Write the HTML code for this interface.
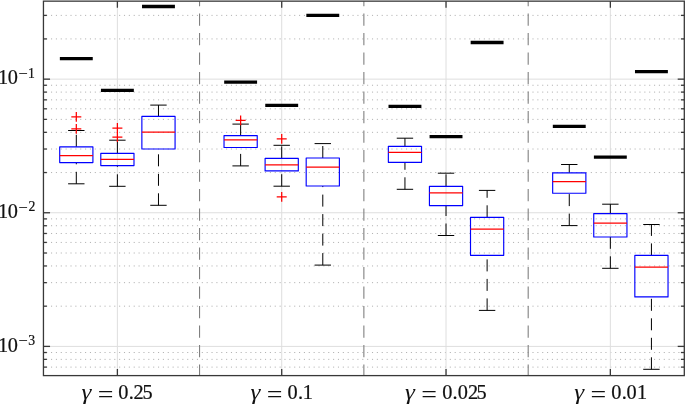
<!DOCTYPE html>
<html lang="en"><head><meta charset="utf-8"><title>Boxplot</title>
<style>html,body{margin:0;padding:0;background:#fff}svg{display:block}</style></head>
<body>
<svg width="685" height="404" viewBox="0 0 685 404" style="display:block">
<rect x="0" y="0" width="685" height="404" fill="#fff"/>
<g stroke="#b2b2b2" stroke-width="1" stroke-dasharray="1.1 3.763" stroke-dashoffset="-2.7" fill="none">
<line x1="43.45" y1="38.92" x2="684.30" y2="38.92"/>
<line x1="43.45" y1="15.39" x2="684.30" y2="15.39"/>
<line x1="43.45" y1="172.55" x2="684.30" y2="172.55"/>
<line x1="43.45" y1="149.02" x2="684.30" y2="149.02"/>
<line x1="43.45" y1="132.33" x2="684.30" y2="132.33"/>
<line x1="43.45" y1="119.38" x2="684.30" y2="119.38"/>
<line x1="43.45" y1="108.80" x2="684.30" y2="108.80"/>
<line x1="43.45" y1="99.85" x2="684.30" y2="99.85"/>
<line x1="43.45" y1="92.10" x2="684.30" y2="92.10"/>
<line x1="43.45" y1="85.26" x2="684.30" y2="85.26"/>
<line x1="43.45" y1="306.18" x2="684.30" y2="306.18"/>
<line x1="43.45" y1="282.65" x2="684.30" y2="282.65"/>
<line x1="43.45" y1="265.96" x2="684.30" y2="265.96"/>
<line x1="43.45" y1="253.01" x2="684.30" y2="253.01"/>
<line x1="43.45" y1="242.43" x2="684.30" y2="242.43"/>
<line x1="43.45" y1="233.48" x2="684.30" y2="233.48"/>
<line x1="43.45" y1="225.73" x2="684.30" y2="225.73"/>
<line x1="43.45" y1="218.89" x2="684.30" y2="218.89"/>
<line x1="43.45" y1="367.11" x2="684.30" y2="367.11"/>
<line x1="43.45" y1="359.36" x2="684.30" y2="359.36"/>
<line x1="43.45" y1="352.52" x2="684.30" y2="352.52"/>
</g>
<g stroke="#dedede" stroke-width="1" fill="none">
<line x1="43.45" y1="79.15" x2="684.30" y2="79.15"/>
<line x1="43.45" y1="212.75" x2="684.30" y2="212.75"/>
<line x1="43.45" y1="346.40" x2="684.30" y2="346.40"/>
<line x1="117.39" y1="1.15" x2="117.39" y2="375.60"/>
<line x1="281.71" y1="1.15" x2="281.71" y2="375.60"/>
<line x1="446.03" y1="1.15" x2="446.03" y2="375.60"/>
<line x1="610.35" y1="1.15" x2="610.35" y2="375.60"/>
</g>
<g stroke="#808080" stroke-width="1.1" stroke-dasharray="12.1 7.4" stroke-dashoffset="1.1" fill="none">
<line x1="199.55" y1="375.60" x2="199.55" y2="1.15"/>
<line x1="363.87" y1="375.60" x2="363.87" y2="1.15"/>
<line x1="528.19" y1="375.60" x2="528.19" y2="1.15"/>
</g>
<g stroke="#000" stroke-width="1" fill="none">
<line x1="76.31" y1="146.80" x2="76.31" y2="130.50" stroke-dasharray="12 7.5"/>
<line x1="76.31" y1="183.80" x2="76.31" y2="162.60" stroke-dasharray="12 7.5"/>
<line x1="68.11" y1="130.50" x2="84.51" y2="130.50"/>
<line x1="68.11" y1="183.80" x2="84.51" y2="183.80"/>
<line x1="117.39" y1="153.30" x2="117.39" y2="140.20" stroke-dasharray="12 7.5"/>
<line x1="117.39" y1="186.30" x2="117.39" y2="165.60" stroke-dasharray="12 7.5"/>
<line x1="109.19" y1="140.20" x2="125.59" y2="140.20"/>
<line x1="109.19" y1="186.30" x2="125.59" y2="186.30"/>
<line x1="158.47" y1="116.40" x2="158.47" y2="105.10" stroke-dasharray="12 7.5"/>
<line x1="158.47" y1="205.30" x2="158.47" y2="149.00" stroke-dasharray="12 7.5"/>
<line x1="150.27" y1="105.10" x2="166.67" y2="105.10"/>
<line x1="150.27" y1="205.30" x2="166.67" y2="205.30"/>
<line x1="240.63" y1="135.60" x2="240.63" y2="124.10" stroke-dasharray="12 7.5"/>
<line x1="240.63" y1="165.90" x2="240.63" y2="147.50" stroke-dasharray="12 7.5"/>
<line x1="232.43" y1="124.10" x2="248.83" y2="124.10"/>
<line x1="232.43" y1="165.90" x2="248.83" y2="165.90"/>
<line x1="281.71" y1="158.40" x2="281.71" y2="145.30" stroke-dasharray="12 7.5"/>
<line x1="281.71" y1="186.20" x2="281.71" y2="170.90" stroke-dasharray="12 7.5"/>
<line x1="273.51" y1="145.30" x2="289.91" y2="145.30"/>
<line x1="273.51" y1="186.20" x2="289.91" y2="186.20"/>
<line x1="322.79" y1="158.00" x2="322.79" y2="143.60" stroke-dasharray="12 7.5"/>
<line x1="322.79" y1="265.10" x2="322.79" y2="186.00" stroke-dasharray="12 7.5"/>
<line x1="314.59" y1="143.60" x2="330.99" y2="143.60"/>
<line x1="314.59" y1="265.10" x2="330.99" y2="265.10"/>
<line x1="404.95" y1="146.30" x2="404.95" y2="138.20" stroke-dasharray="12 7.5"/>
<line x1="404.95" y1="189.30" x2="404.95" y2="162.30" stroke-dasharray="12 7.5"/>
<line x1="396.75" y1="138.20" x2="413.15" y2="138.20"/>
<line x1="396.75" y1="189.30" x2="413.15" y2="189.30"/>
<line x1="446.03" y1="186.30" x2="446.03" y2="173.20" stroke-dasharray="12 7.5"/>
<line x1="446.03" y1="235.50" x2="446.03" y2="205.60" stroke-dasharray="12 7.5"/>
<line x1="437.83" y1="173.20" x2="454.23" y2="173.20"/>
<line x1="437.83" y1="235.50" x2="454.23" y2="235.50"/>
<line x1="487.11" y1="217.30" x2="487.11" y2="190.40" stroke-dasharray="12 7.5"/>
<line x1="487.11" y1="310.40" x2="487.11" y2="255.30" stroke-dasharray="12 7.5"/>
<line x1="478.91" y1="190.40" x2="495.31" y2="190.40"/>
<line x1="478.91" y1="310.40" x2="495.31" y2="310.40"/>
<line x1="569.27" y1="172.90" x2="569.27" y2="164.50" stroke-dasharray="12 7.5"/>
<line x1="569.27" y1="225.60" x2="569.27" y2="193.30" stroke-dasharray="12 7.5"/>
<line x1="561.07" y1="164.50" x2="577.47" y2="164.50"/>
<line x1="561.07" y1="225.60" x2="577.47" y2="225.60"/>
<line x1="610.35" y1="213.60" x2="610.35" y2="204.20" stroke-dasharray="12 7.5"/>
<line x1="610.35" y1="268.30" x2="610.35" y2="237.00" stroke-dasharray="12 7.5"/>
<line x1="602.15" y1="204.20" x2="618.55" y2="204.20"/>
<line x1="602.15" y1="268.30" x2="618.55" y2="268.30"/>
<line x1="651.43" y1="255.40" x2="651.43" y2="224.50" stroke-dasharray="12 7.5"/>
<line x1="651.43" y1="369.30" x2="651.43" y2="296.90" stroke-dasharray="12 7.5"/>
<line x1="643.23" y1="224.50" x2="659.63" y2="224.50"/>
<line x1="643.23" y1="369.30" x2="659.63" y2="369.30"/>
</g>
<g stroke="#0000ff" stroke-width="1.15" stroke-linejoin="round" fill="none">
<rect x="59.71" y="146.80" width="33.20" height="15.80"/>
<rect x="100.79" y="153.30" width="33.20" height="12.30"/>
<rect x="141.87" y="116.40" width="33.20" height="32.60"/>
<rect x="224.03" y="135.60" width="33.20" height="11.90"/>
<rect x="265.11" y="158.40" width="33.20" height="12.50"/>
<rect x="306.19" y="158.00" width="33.20" height="28.00"/>
<rect x="388.35" y="146.30" width="33.20" height="16.00"/>
<rect x="429.43" y="186.30" width="33.20" height="19.30"/>
<rect x="470.51" y="217.30" width="33.20" height="38.00"/>
<rect x="552.67" y="172.90" width="33.20" height="20.40"/>
<rect x="593.75" y="213.60" width="33.20" height="23.40"/>
<rect x="634.83" y="255.40" width="33.20" height="41.50"/>
</g>
<g stroke="#ff0000" stroke-width="1.25" fill="none">
<line x1="59.71" y1="155.70" x2="92.91" y2="155.70"/>
<path d="M71.31 116.90H81.31M76.31 112.00V121.80"/>
<path d="M71.31 128.80H81.31M76.31 123.90V133.70"/>
<line x1="100.79" y1="159.40" x2="133.99" y2="159.40"/>
<path d="M112.39 128.00H122.39M117.39 123.10V132.90"/>
<path d="M112.39 137.20H122.39M117.39 132.30V142.10"/>
<line x1="141.87" y1="132.00" x2="175.07" y2="132.00"/>
<line x1="224.03" y1="139.80" x2="257.23" y2="139.80"/>
<path d="M235.63 120.30H245.63M240.63 115.40V125.20"/>
<line x1="265.11" y1="164.90" x2="298.31" y2="164.90"/>
<path d="M276.71 138.80H286.71M281.71 133.90V143.70"/>
<path d="M276.71 196.80H286.71M281.71 191.90V201.70"/>
<line x1="306.19" y1="167.00" x2="339.39" y2="167.00"/>
<line x1="388.35" y1="152.30" x2="421.55" y2="152.30"/>
<line x1="429.43" y1="192.90" x2="462.63" y2="192.90"/>
<line x1="470.51" y1="229.20" x2="503.71" y2="229.20"/>
<line x1="552.67" y1="181.50" x2="585.87" y2="181.50"/>
<line x1="593.75" y1="223.00" x2="626.95" y2="223.00"/>
<line x1="634.83" y1="267.20" x2="668.03" y2="267.20"/>
</g>
<g stroke="#000" stroke-width="3.3" fill="none">
<line x1="59.86" y1="58.60" x2="92.76" y2="58.60"/>
<line x1="100.94" y1="90.40" x2="133.84" y2="90.40"/>
<line x1="142.02" y1="6.50" x2="174.92" y2="6.50"/>
<line x1="224.18" y1="82.10" x2="257.08" y2="82.10"/>
<line x1="265.26" y1="105.30" x2="298.16" y2="105.30"/>
<line x1="306.34" y1="15.30" x2="339.24" y2="15.30"/>
<line x1="388.50" y1="106.40" x2="421.40" y2="106.40"/>
<line x1="429.58" y1="136.70" x2="462.48" y2="136.70"/>
<line x1="470.66" y1="42.50" x2="503.56" y2="42.50"/>
<line x1="552.82" y1="126.40" x2="585.72" y2="126.40"/>
<line x1="593.90" y1="157.10" x2="626.80" y2="157.10"/>
<line x1="634.98" y1="71.70" x2="667.88" y2="71.70"/>
</g>
<g stroke="#383838" stroke-width="1.3" fill="none">
<rect x="43.45" y="1.15" width="640.85" height="374.45"/>
<line x1="117.39" y1="375.60" x2="117.39" y2="369.00"/>
<line x1="117.39" y1="1.15" x2="117.39" y2="7.75"/>
<line x1="281.71" y1="375.60" x2="281.71" y2="369.00"/>
<line x1="281.71" y1="1.15" x2="281.71" y2="7.75"/>
<line x1="446.03" y1="375.60" x2="446.03" y2="369.00"/>
<line x1="446.03" y1="1.15" x2="446.03" y2="7.75"/>
<line x1="610.35" y1="375.60" x2="610.35" y2="369.00"/>
<line x1="610.35" y1="1.15" x2="610.35" y2="7.75"/>
<line x1="43.45" y1="79.15" x2="50.05" y2="79.15"/>
<line x1="684.30" y1="79.15" x2="677.70" y2="79.15"/>
<line x1="43.45" y1="212.75" x2="50.05" y2="212.75"/>
<line x1="684.30" y1="212.75" x2="677.70" y2="212.75"/>
<line x1="43.45" y1="346.40" x2="50.05" y2="346.40"/>
<line x1="684.30" y1="346.40" x2="677.70" y2="346.40"/>
<line x1="43.45" y1="38.92" x2="46.85" y2="38.92"/>
<line x1="684.30" y1="38.92" x2="680.90" y2="38.92"/>
<line x1="43.45" y1="15.39" x2="46.85" y2="15.39"/>
<line x1="684.30" y1="15.39" x2="680.90" y2="15.39"/>
<line x1="43.45" y1="172.55" x2="46.85" y2="172.55"/>
<line x1="684.30" y1="172.55" x2="680.90" y2="172.55"/>
<line x1="43.45" y1="149.02" x2="46.85" y2="149.02"/>
<line x1="684.30" y1="149.02" x2="680.90" y2="149.02"/>
<line x1="43.45" y1="132.33" x2="46.85" y2="132.33"/>
<line x1="684.30" y1="132.33" x2="680.90" y2="132.33"/>
<line x1="43.45" y1="119.38" x2="46.85" y2="119.38"/>
<line x1="684.30" y1="119.38" x2="680.90" y2="119.38"/>
<line x1="43.45" y1="108.80" x2="46.85" y2="108.80"/>
<line x1="684.30" y1="108.80" x2="680.90" y2="108.80"/>
<line x1="43.45" y1="99.85" x2="46.85" y2="99.85"/>
<line x1="684.30" y1="99.85" x2="680.90" y2="99.85"/>
<line x1="43.45" y1="92.10" x2="46.85" y2="92.10"/>
<line x1="684.30" y1="92.10" x2="680.90" y2="92.10"/>
<line x1="43.45" y1="85.26" x2="46.85" y2="85.26"/>
<line x1="684.30" y1="85.26" x2="680.90" y2="85.26"/>
<line x1="43.45" y1="306.18" x2="46.85" y2="306.18"/>
<line x1="684.30" y1="306.18" x2="680.90" y2="306.18"/>
<line x1="43.45" y1="282.65" x2="46.85" y2="282.65"/>
<line x1="684.30" y1="282.65" x2="680.90" y2="282.65"/>
<line x1="43.45" y1="265.96" x2="46.85" y2="265.96"/>
<line x1="684.30" y1="265.96" x2="680.90" y2="265.96"/>
<line x1="43.45" y1="253.01" x2="46.85" y2="253.01"/>
<line x1="684.30" y1="253.01" x2="680.90" y2="253.01"/>
<line x1="43.45" y1="242.43" x2="46.85" y2="242.43"/>
<line x1="684.30" y1="242.43" x2="680.90" y2="242.43"/>
<line x1="43.45" y1="233.48" x2="46.85" y2="233.48"/>
<line x1="684.30" y1="233.48" x2="680.90" y2="233.48"/>
<line x1="43.45" y1="225.73" x2="46.85" y2="225.73"/>
<line x1="684.30" y1="225.73" x2="680.90" y2="225.73"/>
<line x1="43.45" y1="218.89" x2="46.85" y2="218.89"/>
<line x1="684.30" y1="218.89" x2="680.90" y2="218.89"/>
<line x1="43.45" y1="367.11" x2="46.85" y2="367.11"/>
<line x1="684.30" y1="367.11" x2="680.90" y2="367.11"/>
<line x1="43.45" y1="359.36" x2="46.85" y2="359.36"/>
<line x1="684.30" y1="359.36" x2="680.90" y2="359.36"/>
<line x1="43.45" y1="352.52" x2="46.85" y2="352.52"/>
<line x1="684.30" y1="352.52" x2="680.90" y2="352.52"/>
</g>
<g fill="#111" stroke="#111" stroke-width="0.22" font-family="'Liberation Serif', serif" font-size="20.3">
<text><tspan x="-1.93 7.69" y="84.35">10</tspan><tspan x="18.25" y="79.15" font-size="17.0" stroke="none">−</tspan><tspan x="28.07" y="77.75" font-size="13.7">1</tspan></text>
<text><tspan x="-1.93 7.69" y="217.95">10</tspan><tspan x="18.25" y="212.75" font-size="17.0" stroke="none">−</tspan><tspan x="28.55" y="211.35" font-size="13.7">2</tspan></text>
<text><tspan x="-1.93 7.69" y="351.60">10</tspan><tspan x="18.25" y="346.39" font-size="17.0" stroke="none">−</tspan><tspan x="28.21" y="345.00" font-size="13.7">3</tspan></text>
<text y="399.40"><tspan x="81.40" y="399.15" font-size="20.1" font-style="italic" stroke="none" textLength="9.90" lengthAdjust="spacingAndGlyphs">γ</tspan> <tspan x="97.66" y="402.57" font-size="25.0" stroke="none" textLength="15.72" lengthAdjust="spacingAndGlyphs">=</tspan> <tspan x="118.29 128.78 133.59 142.38" y="399.40">0.25</tspan></text>
<text y="399.40"><tspan x="250.40" y="399.15" font-size="20.1" font-style="italic" stroke="none" textLength="9.90" lengthAdjust="spacingAndGlyphs">γ</tspan> <tspan x="266.66" y="402.57" font-size="25.0" stroke="none" textLength="15.72" lengthAdjust="spacingAndGlyphs">=</tspan> <tspan x="287.49 297.98 302.77" y="399.40">0.1</tspan></text>
<text y="399.40"><tspan x="405.00" y="399.15" font-size="20.1" font-style="italic" stroke="none" textLength="9.90" lengthAdjust="spacingAndGlyphs">γ</tspan> <tspan x="421.26" y="402.57" font-size="25.0" stroke="none" textLength="15.72" lengthAdjust="spacingAndGlyphs">=</tspan> <tspan x="442.19 452.58 457.69 467.89 476.58" y="399.40">0.025</tspan></text>
<text y="399.40"><tspan x="574.20" y="399.15" font-size="20.1" font-style="italic" stroke="none" textLength="9.90" lengthAdjust="spacingAndGlyphs">γ</tspan> <tspan x="590.46" y="402.57" font-size="25.0" stroke="none" textLength="15.72" lengthAdjust="spacingAndGlyphs">=</tspan> <tspan x="611.29 621.78 626.49 637.07" y="399.40">0.01</tspan></text>
</g>
</svg>
</body></html>
